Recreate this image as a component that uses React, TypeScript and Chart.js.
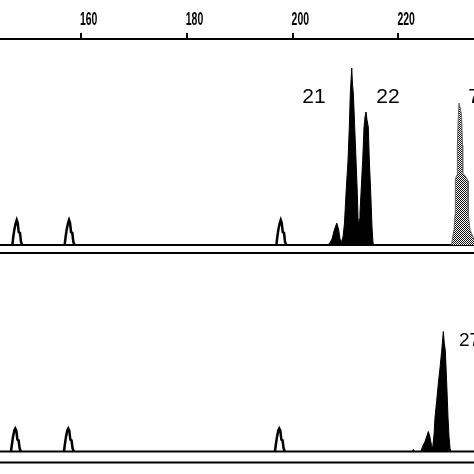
import React, { useEffect, useRef } from "react";
import { Chart, registerables } from "chart.js";
Chart.register(...registerables);

// ---- axis (base pairs) ----
const X_MIN = 144.69;
const X_MAX = 234.29;
const AXIS_TICKS = [160, 180, 200, 220];

// ---- panel 1 ----
const P1_BLACK_X = [206.32, 206.94, 207.45, 207.83, 208.34, 208.68, 208.96, 209.25, 209.53, 209.81, 210.1, 210.48, 210.72, 210.91, 211.18, 211.33, 211.48, 211.74, 211.99, 212.23, 212.42, 212.61, 212.74, 212.93, 213.25, 213.5, 213.69, 213.88, 214.07, 214.31, 214.5, 214.77, 215.01, 215.2, 215.39];
const P1_BLACK_Y = [0, 1, 6, 14, 22, 16, 6, 3, 8, 22, 52, 85, 118, 152, 177, 160, 152, 118, 85, 52, 18, 26, 32, 52, 85, 118, 128, 133, 125, 118, 85, 52, 18, 2, 0];
const P1_GRAY_X = [230.04, 230.27, 230.51, 230.7, 230.76, 231.08, 231.14, 231.33, 231.46, 231.65, 231.93, 232.12, 232.16, 232.78, 233.16, 233.22, 233.54, 234.11, 234.29];
const P1_GRAY_Y = [0, 8, 15, 30, 66, 70, 100, 130, 142, 138, 130, 100, 72, 68, 64, 30, 15, 8, 5];
const P1_MARK1_X = [147.02, 147.2, 147.39, 147.66, 147.85, 148.04, 148.23, 148.47, 148.66, 148.91];
const P1_MARK2_X = [156.91, 157.09, 157.28, 157.55, 157.74, 157.93, 158.12, 158.36, 158.55, 158.8];
const P1_MARK3_X = [196.93, 197.11, 197.3, 197.57, 197.76, 197.95, 198.14, 198.38, 198.57, 198.82];
const P1_MARK_Y = [0, 8, 15, 22, 25, 22, 13, 12, 3, 0];
const P1_LABELS = ["21", "22", "7"];
const P1_LABEL_X = [204.03, 218.04, 234.3];
const P1_LABEL_Y = [142, 142, 142];

// ---- panel 2 ----
const P2_BLACK_X = [222.57, 222.82, 223.05, 224.22, 224.65, 225.03, 225.41, 225.66, 225.98, 226.26, 226.45, 226.6, 226.73, 226.92, 227.24, 227.49, 227.87, 228.19, 228.49, 228.68, 228.87, 229.14, 229.38, 229.57, 229.76, 229.95];
const P2_BLACK_Y = [0, 2, 0, 0, 6, 10, 16, 20, 14, 6, 3, 10, 17, 34, 51, 65, 84, 101, 120, 108, 101, 67, 34, 15, 3, 0];
const P2_MARK1_X = [146.76, 146.94, 147.13, 147.4, 147.59, 147.78, 147.97, 148.21, 148.4, 148.65];
const P2_MARK2_X = [156.77, 156.95, 157.14, 157.41, 157.6, 157.79, 157.98, 158.22, 158.41, 158.66];
const P2_MARK3_X = [196.66, 196.84, 197.03, 197.3, 197.49, 197.68, 197.87, 198.11, 198.3, 198.55];
const P2_MARK_Y = [0, 7, 14, 21, 23, 21, 12, 11, 3, 0];
const P2_LABELS = ["27"];
const P2_LABEL_X = [233.44];
const P2_LABEL_Y = [106];

// second trace baselines
const BASE_X = [X_MIN, X_MAX];
const P1_BASE2 = -8;
const P2_BASE2 = -11;

const zip = (xs: number[], ys: number[]) => xs.map((x, i) => ({ x, y: ys[i] }));

function makePattern(): CanvasPattern | string {
  const c = document.createElement("canvas");
  c.width = 2;
  c.height = 2;
  const g = c.getContext("2d");
  if (!g) return "#888";
  g.fillStyle = "#ffffff";
  g.fillRect(0, 0, 2, 2);
  g.fillStyle = "#111111";
  g.fillRect(0, 0, 1, 1);
  g.fillRect(1, 1, 1, 1);
  const p = g.createPattern(c, "repeat");
  return p || "#888";
}

const labelPlugin = {
  id: "peakLabels",
  afterDatasetsDraw(chart: any, _args: any, opts: any) {
    const { ctx } = chart;
    const xs = chart.scales.x;
    const ys = chart.scales.y;
    ctx.save();
    ctx.fillStyle = "#000";
    ctx.font = opts.font;
    ctx.textAlign = "center";
    ctx.textBaseline = "alphabetic";
    (opts.labels || []).forEach((t: string, i: number) => {
      ctx.fillText(t, xs.getPixelForValue(opts.xs[i]), ys.getPixelForValue(opts.ys[i]));
    });
    if (opts.axisTicks) {
      ctx.font = "bold 18px 'Liberation Sans', Arial, sans-serif";
      ctx.textAlign = "left";
      const base = xs.bottom - 14;
      opts.axisTicks.forEach((v: number) => {
        ctx.save();
        ctx.translate(xs.getPixelForValue(v) - 1, base);
        ctx.scale(0.58, 1);
        ctx.fillText(String(v), 0, 0);
        ctx.restore();
      });
    }
    ctx.restore();
  },
};

function lineDs(data: any[], extra: any = {}) {
  return {
    data,
    borderColor: "#000",
    borderWidth: 2,
    pointRadius: 0,
    tension: 0,
    fill: false,
    ...extra,
  };
}

type PanelProps = {
  top: number;
  height: number;
  showAxis: boolean;
  yMin: number;
  yMax: number;
  datasets: () => any[];
  labels: string[];
  lx: number[];
  ly: number[];
  font: string;
};

function Panel(p: PanelProps) {
  const ref = useRef<HTMLCanvasElement | null>(null);
  useEffect(() => {
    if (!ref.current) return;
    const chart = new Chart(ref.current, {
      type: "line",
      data: { datasets: p.datasets() },
      plugins: [labelPlugin as any],
      options: {
        responsive: false,
        animation: false,
        maintainAspectRatio: false,
        layout: { padding: 0 },
        plugins: {
          legend: { display: false },
          tooltip: { enabled: false },
          peakLabels: {
            labels: p.labels,
            xs: p.lx,
            ys: p.ly,
            font: p.font,
            axisTicks: p.showAxis ? AXIS_TICKS : null,
          },
        } as any,
        scales: {
          x: {
            type: "linear",
            position: "top",
            min: X_MIN,
            max: X_MAX,
            display: p.showAxis,
            afterBuildTicks: (s: any) => {
              s.ticks = AXIS_TICKS.map((v) => ({ value: v }));
            },
            afterFit: (s: any) => {
              if (p.showAxis) s.height = 39;
            },
            grid: {
              drawOnChartArea: false,
              drawTicks: true,
              tickLength: 6,
              color: "#000",
              lineWidth: 2,
            },
            border: { display: true, color: "#000", width: 2 },
            ticks: { display: false },
          },
          y: {
            type: "linear",
            display: false,
            min: p.yMin,
            max: p.yMax,
          },
        },
      } as any,
    });
    return () => chart.destroy();
  }, []);
  return (
    <canvas
      ref={ref}
      width={474}
      height={p.height}
      style={{ position: "absolute", left: 0, top: p.top, width: 474, height: p.height }}
    />
  );
}

export default function App() {
  const p1 = () => {
    const gray = makePattern();
    return [
      lineDs(zip(P1_BLACK_X, P1_BLACK_Y), { fill: "origin", backgroundColor: "#000", borderWidth: 1 }),
      lineDs(zip(P1_GRAY_X, P1_GRAY_Y), { fill: "origin", backgroundColor: gray, borderColor: "#666", borderWidth: 1 }),
      lineDs(zip(P1_MARK1_X, P1_MARK_Y), { borderWidth: 2.5 }),
      lineDs(zip(P1_MARK2_X, P1_MARK_Y), { borderWidth: 2.5 }),
      lineDs(zip(P1_MARK3_X, P1_MARK_Y), { borderWidth: 2.5 }),
      lineDs(zip(BASE_X, [0, 0])),
      lineDs(zip(BASE_X, [P1_BASE2, P1_BASE2])),
    ];
  };
  const p2 = () => [
    lineDs(zip(P2_BLACK_X, P2_BLACK_Y), { fill: "origin", backgroundColor: "#000", borderWidth: 1 }),
    lineDs(zip(P2_MARK1_X, P2_MARK_Y), { borderWidth: 2.5 }),
    lineDs(zip(P2_MARK2_X, P2_MARK_Y), { borderWidth: 2.5 }),
    lineDs(zip(P2_MARK3_X, P2_MARK_Y), { borderWidth: 2.5 }),
    lineDs(zip(BASE_X, [0, 0])),
    lineDs(zip(BASE_X, [P2_BASE2, P2_BASE2])),
  ];
  return (
    <div style={{ position: "absolute", left: 0, top: 0, width: 474, height: 474, background: "#fff" }}>
      <Panel top={0} height={256} showAxis={true} yMin={-11} yMax={206} datasets={p1}
        labels={P1_LABELS} lx={P1_LABEL_X} ly={P1_LABEL_Y} font="21px 'Liberation Sans', Arial, sans-serif" />
      <Panel top={256} height={218} showAxis={false} yMin={-22.5} yMax={195.5} datasets={p2}
        labels={P2_LABELS} lx={P2_LABEL_X} ly={P2_LABEL_Y} font="19px 'Liberation Sans', Arial, sans-serif" />
    </div>
  );
}
